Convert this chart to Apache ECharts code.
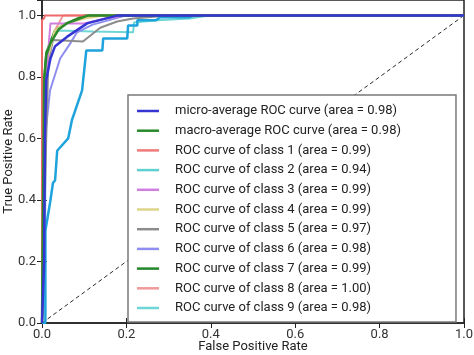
<!DOCTYPE html>
<html><head><meta charset="utf-8">
<script src="https://cdn.jsdelivr.net/npm/echarts@6/dist/echarts.min.js"></script>
<style>html,body{margin:0;padding:0;background:#fff}#c{width:474px;height:355px}</style>
</head><body><div id="c"></div>
<script>
const xTicks = [0.0, 0.2, 0.4, 0.6, 0.8, 1.0];
const yTicks = [0.0, 0.2, 0.4, 0.6, 0.8, 1.0];
const names = [
  'micro-average ROC curve (area = 0.98)',
  'macro-average ROC curve (area = 0.98)',
  'ROC curve of class 1 (area = 0.99)',
  'ROC curve of class 2 (area = 0.94)',
  'ROC curve of class 3 (area = 0.99)',
  'ROC curve of class 4 (area = 0.99)',
  'ROC curve of class 5 (area = 0.97)',
  'ROC curve of class 6 (area = 0.98)',
  'ROC curve of class 7 (area = 0.99)',
  'ROC curve of class 8 (area = 1.00)',
  'ROC curve of class 9 (area = 0.98)'
];
const microAvg = [[0,0],[0.005,0.2],[0.007,0.6],[0.01,0.79],[0.02,0.86],[0.031,0.9],[0.059,0.93],[0.107,0.974],[0.18,1.0],[1,1]];
const macroAvg = [[0,0],[0.005,0.78],[0.01,0.87],[0.02,0.91],[0.04,0.955],[0.06,0.975],[0.11,1.0],[1,1]];
const class1 = [[0,0],[0,0.985],[0.005,0.99],[0.007,1.0],[1,1]];
const class2 = [[0,0],[0.008,0],[0.008,0.3],[0.019,0.39],[0.026,0.455],[0.031,0.464],[0.036,0.56],[0.062,0.6],[0.071,0.66],[0.095,0.756],[0.105,0.886],[0.143,0.886],[0.145,0.925],[0.202,0.925],[0.204,0.967],[0.226,0.967],[0.226,0.984],[0.27,0.984],[0.28,0.994],[0.35,0.994],[0.36,1.0],[1,1]];
const class3 = [[0,0],[0.005,0.6],[0.01,0.8],[0.02,0.974],[0.1,0.974],[0.15,0.99],[0.2,1.0],[1,1]];
const class4 = [[0,0],[0.005,0.7],[0.01,0.84],[0.03,0.95],[0.05,0.97],[0.1,0.99],[0.15,1.0],[1,1]];
const class5 = [[0,0],[0.01,0.6],[0.015,0.85],[0.026,0.92],[0.097,0.915],[0.138,0.96],[0.178,0.98],[0.216,0.99],[0.3,1.0],[1,1]];
const class6 = [[0,0],[0.005,0.3],[0.007,0.6],[0.019,0.756],[0.043,0.86],[0.067,0.909],[0.083,0.945],[0.12,0.97],[0.2,1.0],[1,1]];
const class7 = [[0,0],[0.005,0.8],[0.01,0.88],[0.03,0.95],[0.05,0.97],[0.1,1.0],[1,1]];
const class8 = [[0,0],[0.005,0.6],[0.01,0.8],[0.02,0.9],[0.03,0.95],[0.05,1.0],[1,1]];
const class9 = [[0,0],[0.007,0.1],[0.008,0.5],[0.01,0.8],[0.02,0.92],[0.038,0.951],[0.12,0.948],[0.216,0.945],[0.218,0.977],[0.273,0.984],[0.35,0.99],[0.4,1.0],[1,1]];
const chance = [[0,0],[1,1]];

const curves = [microAvg, macroAvg, class1, class2, class3, class4, class5, class6, class7, class8, class9];
const lineColors = ['#3535d4','#2a8a2a','#ee6a6a','#1ea3dc','#d07ee0','#ddd58a','#8c8c8c','#8e8ef0','#23862a','#f19a9a','#6ed6d6'];
const legendColors = ['#3535d4','#2a8a2a','#ee7a7a','#5fd0d0','#d07ee0','#ddd58a','#8c8c8c','#8e8ef0','#23862a','#f19a9a','#6ed6d6'];
const widths = [2.5,2.5,2,2.5,2,2,2,2,2,2,2];

const FONT = 'Roboto';
const fmt = v => (Math.abs(v*5 - Math.round(v*5)) < 1e-6) ? v.toFixed(1) : '';

const series = curves.map((d,i)=>({
  name: names[i], type:'line', data:d, showSymbol:false, symbol:'none',
  lineStyle:{color:lineColors[i], width:widths[i]}, itemStyle:{color:lineColors[i]},
  z: 2 + (11-i)*0.01, animation:false
}));
series.push({type:'line', data:chance, showSymbol:false, symbol:'none', silent:true,
  lineStyle:{color:'#111', width:0.9, type:[4,3]}, z:1, animation:false});

const chart = echarts.init(document.getElementById('c'), null, {renderer:'canvas'});
chart.setOption({
  animation:false,
  backgroundColor:'#fff',
  grid:{left:42, right:10, top:0, bottom:32, show:true, borderColor:'#222', borderWidth:1.5, backgroundColor:'transparent', outerBoundsMode:'none', containLabel:false},
  legend:{
    orient:'vertical', left:128, top:95,
    data: names.map((n,i)=>({name:n, icon:'rect', itemStyle:{color:legendColors[i]}})),
    itemWidth:22, itemHeight:2.5, itemGap:5.7,
    textStyle:{fontFamily:FONT, fontSize:13, color:'#222', lineHeight:14, padding:[0,0,0,11]},
    padding:[9,55,7,9], backgroundColor:'#fff', borderColor:'#7a7a7a', borderWidth:1.5, borderRadius:0,
    selectedMode:false
  },
  xAxis:[{
    type:'value', min:0, max:1, interval:0.2,
    name:'False Positive Rate', nameLocation:'middle', nameGap:17, nameMoveOverlap:false,
    nameTextStyle:{fontFamily:FONT, fontSize:13, color:'#222'},
    axisLine:{show:true, lineStyle:{color:'#222', width:1.5}},
    axisTick:{show:true, inside:true, length:5, lineStyle:{color:'#222'}},
    axisLabel:{fontFamily:FONT, fontSize:13, color:'#333', margin:5, formatter:fmt},
    splitLine:{show:false}
  },{
    type:'value', min:0, max:1, interval:0.2, position:'top',
    axisLine:{show:false}, axisTick:{show:true, inside:true, length:5, lineStyle:{color:'#222'}},
    axisLabel:{show:false}, splitLine:{show:false}
  }],
  yAxis:[{
    type:'value', min:0, max:1.05, interval:0.2,
    name:'True Positive Rate', nameLocation:'middle', nameGap:27, nameMoveOverlap:false,
    nameTextStyle:{fontFamily:FONT, fontSize:13, color:'#222'},
    axisLine:{show:true, lineStyle:{color:'#222', width:1.5}},
    axisTick:{show:true, inside:true, length:5, lineStyle:{color:'#222'}, interval:0},
    axisLabel:{fontFamily:FONT, fontSize:13, color:'#333', margin:6, formatter:fmt, showMaxLabel:false},
    splitLine:{show:false}
  },{
    type:'value', min:0, max:1.05, interval:0.2, position:'right',
    axisLine:{show:false}, axisTick:{show:true, inside:true, length:5, lineStyle:{color:'#222'}},
    axisLabel:{show:false}, splitLine:{show:false}
  }],
  series: series
});
</script></body></html>
